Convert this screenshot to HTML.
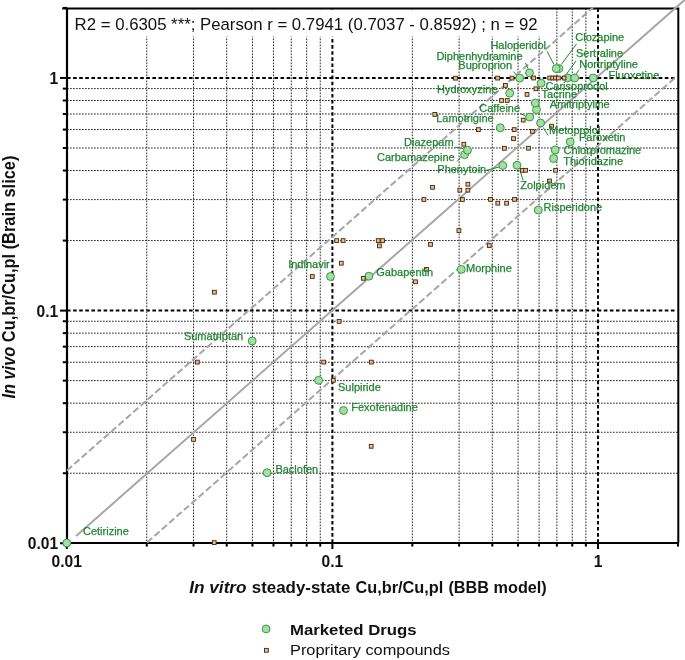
<!DOCTYPE html>
<html><head><meta charset="utf-8"><title>Plot</title>
<style>html,body{margin:0;padding:0;background:#fff;}body{width:685px;height:660px;overflow:hidden;}svg{display:block;}</style>
</head><body>
<svg width="685" height="660" viewBox="0 0 685 660">
<rect width="685" height="660" fill="#fff"/>
<line x1="146.75" y1="8.5" x2="146.75" y2="543" stroke="#2a2a2a" stroke-width="1" stroke-dasharray="1.7 1.3"/>
<line x1="193.52" y1="8.5" x2="193.52" y2="543" stroke="#2a2a2a" stroke-width="1" stroke-dasharray="1.7 1.3"/>
<line x1="226.71" y1="8.5" x2="226.71" y2="543" stroke="#2a2a2a" stroke-width="1" stroke-dasharray="1.7 1.3"/>
<line x1="252.45" y1="8.5" x2="252.45" y2="543" stroke="#2a2a2a" stroke-width="1" stroke-dasharray="1.7 1.3"/>
<line x1="273.48" y1="8.5" x2="273.48" y2="543" stroke="#2a2a2a" stroke-width="1" stroke-dasharray="1.7 1.3"/>
<line x1="291.26" y1="8.5" x2="291.26" y2="543" stroke="#2a2a2a" stroke-width="1" stroke-dasharray="1.7 1.3"/>
<line x1="306.66" y1="8.5" x2="306.66" y2="543" stroke="#2a2a2a" stroke-width="1" stroke-dasharray="1.7 1.3"/>
<line x1="320.25" y1="8.5" x2="320.25" y2="543" stroke="#2a2a2a" stroke-width="1" stroke-dasharray="1.7 1.3"/>
<line x1="412.35" y1="8.5" x2="412.35" y2="543" stroke="#2a2a2a" stroke-width="1" stroke-dasharray="1.7 1.3"/>
<line x1="459.12" y1="8.5" x2="459.12" y2="543" stroke="#2a2a2a" stroke-width="1" stroke-dasharray="1.7 1.3"/>
<line x1="492.31" y1="8.5" x2="492.31" y2="543" stroke="#2a2a2a" stroke-width="1" stroke-dasharray="1.7 1.3"/>
<line x1="518.05" y1="8.5" x2="518.05" y2="543" stroke="#2a2a2a" stroke-width="1" stroke-dasharray="1.7 1.3"/>
<line x1="539.08" y1="8.5" x2="539.08" y2="543" stroke="#2a2a2a" stroke-width="1" stroke-dasharray="1.7 1.3"/>
<line x1="556.86" y1="8.5" x2="556.86" y2="543" stroke="#2a2a2a" stroke-width="1" stroke-dasharray="1.7 1.3"/>
<line x1="572.26" y1="8.5" x2="572.26" y2="543" stroke="#2a2a2a" stroke-width="1" stroke-dasharray="1.7 1.3"/>
<line x1="585.85" y1="8.5" x2="585.85" y2="543" stroke="#2a2a2a" stroke-width="1" stroke-dasharray="1.7 1.3"/>
<line x1="67" y1="473.22" x2="678.3" y2="473.22" stroke="#2a2a2a" stroke-width="1" stroke-dasharray="1.7 1.3"/>
<line x1="67" y1="432.25" x2="678.3" y2="432.25" stroke="#2a2a2a" stroke-width="1" stroke-dasharray="1.7 1.3"/>
<line x1="67" y1="403.18" x2="678.3" y2="403.18" stroke="#2a2a2a" stroke-width="1" stroke-dasharray="1.7 1.3"/>
<line x1="67" y1="380.63" x2="678.3" y2="380.63" stroke="#2a2a2a" stroke-width="1" stroke-dasharray="1.7 1.3"/>
<line x1="67" y1="362.21" x2="678.3" y2="362.21" stroke="#2a2a2a" stroke-width="1" stroke-dasharray="1.7 1.3"/>
<line x1="67" y1="346.64" x2="678.3" y2="346.64" stroke="#2a2a2a" stroke-width="1" stroke-dasharray="1.7 1.3"/>
<line x1="67" y1="333.15" x2="678.3" y2="333.15" stroke="#2a2a2a" stroke-width="1" stroke-dasharray="1.7 1.3"/>
<line x1="67" y1="321.25" x2="678.3" y2="321.25" stroke="#2a2a2a" stroke-width="1" stroke-dasharray="1.7 1.3"/>
<line x1="67" y1="240.57" x2="678.3" y2="240.57" stroke="#2a2a2a" stroke-width="1" stroke-dasharray="1.7 1.3"/>
<line x1="67" y1="199.60" x2="678.3" y2="199.60" stroke="#2a2a2a" stroke-width="1" stroke-dasharray="1.7 1.3"/>
<line x1="67" y1="170.53" x2="678.3" y2="170.53" stroke="#2a2a2a" stroke-width="1" stroke-dasharray="1.7 1.3"/>
<line x1="67" y1="147.98" x2="678.3" y2="147.98" stroke="#2a2a2a" stroke-width="1" stroke-dasharray="1.7 1.3"/>
<line x1="67" y1="129.56" x2="678.3" y2="129.56" stroke="#2a2a2a" stroke-width="1" stroke-dasharray="1.7 1.3"/>
<line x1="67" y1="113.99" x2="678.3" y2="113.99" stroke="#2a2a2a" stroke-width="1" stroke-dasharray="1.7 1.3"/>
<line x1="67" y1="100.50" x2="678.3" y2="100.50" stroke="#2a2a2a" stroke-width="1" stroke-dasharray="1.7 1.3"/>
<line x1="67" y1="88.60" x2="678.3" y2="88.60" stroke="#2a2a2a" stroke-width="1" stroke-dasharray="1.7 1.3"/>
<line x1="332.40" y1="8.5" x2="332.40" y2="543" stroke="#000" stroke-width="2" stroke-dasharray="3.6 2.5"/>
<line x1="67" y1="310.60" x2="676.4" y2="310.60" stroke="#000" stroke-width="2" stroke-dasharray="3.6 2.5"/>
<line x1="598.00" y1="8.5" x2="598.00" y2="543" stroke="#000" stroke-width="2" stroke-dasharray="3.6 2.5"/>
<line x1="67" y1="77.95" x2="676.4" y2="77.95" stroke="#000" stroke-width="2" stroke-dasharray="3.6 2.5"/>
<rect x="68" y="9.5" width="478" height="27" fill="#fff"/>
<text x="74.6" y="29.8" font-family="'Liberation Sans', Arial, sans-serif" font-size="16.6" fill="#111" textLength="463" lengthAdjust="spacingAndGlyphs">R2 = 0.6305 ***; Pearson r = 0.7941 (0.7037 - 0.8592) ; n = 92</text>
<path d="M67 8.0 V543 H678.3" fill="none" stroke="#000" stroke-width="2.2"/>
<path d="M62.3 8.5 H678.3 V543" fill="none" stroke="#000" stroke-width="2"/>
<line x1="60" y1="77.95" x2="67" y2="77.95" stroke="#000" stroke-width="2"/>
<line x1="598.00" y1="543" x2="598.00" y2="549" stroke="#000" stroke-width="2"/>
<line x1="60" y1="310.60" x2="67" y2="310.60" stroke="#000" stroke-width="2"/>
<line x1="332.40" y1="543" x2="332.40" y2="549" stroke="#000" stroke-width="2"/>
<line x1="60" y1="543.25" x2="67" y2="543.25" stroke="#000" stroke-width="2"/>
<line x1="66.80" y1="543" x2="66.80" y2="549" stroke="#000" stroke-width="2"/>
<line x1="62.8" y1="473.22" x2="67" y2="473.22" stroke="#000" stroke-width="2"/>
<line x1="146.75" y1="543" x2="146.75" y2="546.6" stroke="#000" stroke-width="2"/>
<line x1="62.8" y1="432.25" x2="67" y2="432.25" stroke="#000" stroke-width="2"/>
<line x1="193.52" y1="543" x2="193.52" y2="546.6" stroke="#000" stroke-width="2"/>
<line x1="62.8" y1="403.18" x2="67" y2="403.18" stroke="#000" stroke-width="2"/>
<line x1="226.71" y1="543" x2="226.71" y2="546.6" stroke="#000" stroke-width="2"/>
<line x1="62.8" y1="380.63" x2="67" y2="380.63" stroke="#000" stroke-width="2"/>
<line x1="252.45" y1="543" x2="252.45" y2="546.6" stroke="#000" stroke-width="2"/>
<line x1="62.8" y1="362.21" x2="67" y2="362.21" stroke="#000" stroke-width="2"/>
<line x1="273.48" y1="543" x2="273.48" y2="546.6" stroke="#000" stroke-width="2"/>
<line x1="62.8" y1="346.64" x2="67" y2="346.64" stroke="#000" stroke-width="2"/>
<line x1="291.26" y1="543" x2="291.26" y2="546.6" stroke="#000" stroke-width="2"/>
<line x1="62.8" y1="333.15" x2="67" y2="333.15" stroke="#000" stroke-width="2"/>
<line x1="306.66" y1="543" x2="306.66" y2="546.6" stroke="#000" stroke-width="2"/>
<line x1="62.8" y1="321.25" x2="67" y2="321.25" stroke="#000" stroke-width="2"/>
<line x1="320.25" y1="543" x2="320.25" y2="546.6" stroke="#000" stroke-width="2"/>
<line x1="62.8" y1="240.57" x2="67" y2="240.57" stroke="#000" stroke-width="2"/>
<line x1="412.35" y1="543" x2="412.35" y2="546.6" stroke="#000" stroke-width="2"/>
<line x1="62.8" y1="199.60" x2="67" y2="199.60" stroke="#000" stroke-width="2"/>
<line x1="459.12" y1="543" x2="459.12" y2="546.6" stroke="#000" stroke-width="2"/>
<line x1="62.8" y1="170.53" x2="67" y2="170.53" stroke="#000" stroke-width="2"/>
<line x1="492.31" y1="543" x2="492.31" y2="546.6" stroke="#000" stroke-width="2"/>
<line x1="62.8" y1="147.98" x2="67" y2="147.98" stroke="#000" stroke-width="2"/>
<line x1="518.05" y1="543" x2="518.05" y2="546.6" stroke="#000" stroke-width="2"/>
<line x1="62.8" y1="129.56" x2="67" y2="129.56" stroke="#000" stroke-width="2"/>
<line x1="539.08" y1="543" x2="539.08" y2="546.6" stroke="#000" stroke-width="2"/>
<line x1="62.8" y1="113.99" x2="67" y2="113.99" stroke="#000" stroke-width="2"/>
<line x1="556.86" y1="543" x2="556.86" y2="546.6" stroke="#000" stroke-width="2"/>
<line x1="62.8" y1="100.50" x2="67" y2="100.50" stroke="#000" stroke-width="2"/>
<line x1="572.26" y1="543" x2="572.26" y2="546.6" stroke="#000" stroke-width="2"/>
<line x1="62.8" y1="88.60" x2="67" y2="88.60" stroke="#000" stroke-width="2"/>
<line x1="585.85" y1="543" x2="585.85" y2="546.6" stroke="#000" stroke-width="2"/>
<line x1="62.8" y1="7.92" x2="67" y2="7.92" stroke="#000" stroke-width="2"/>
<line x1="677.95" y1="543" x2="677.95" y2="546.6" stroke="#000" stroke-width="2"/>
<line x1="76.1" y1="536" x2="687" y2="-2.20" stroke="#a6a6a6" stroke-width="2"/>
<line x1="67" y1="470.5" x2="593" y2="7.5" stroke="#a6a6a6" stroke-width="2" stroke-dasharray="6.8 3"/>
<line x1="147.1" y1="542.5" x2="674.5" y2="78.2" stroke="#a6a6a6" stroke-width="2" stroke-dasharray="6.8 3"/>
<line x1="519.7" y1="169.9" x2="523.2" y2="180.4" stroke="#1f8530" stroke-width="1"/>
<line x1="485.8" y1="170.5" x2="499.0" y2="167.0" stroke="#1f8530" stroke-width="1"/>
<line x1="457.3" y1="161.4" x2="460.5" y2="157.0" stroke="#1f8530" stroke-width="1"/>
<line x1="455.4" y1="147.2" x2="463.2" y2="148.5" stroke="#1f8530" stroke-width="1"/>
<line x1="548.2" y1="135.4" x2="543.2" y2="127.5" stroke="#1f8530" stroke-width="1"/>
<line x1="520.4" y1="113.5" x2="525.6" y2="116.0" stroke="#1f8530" stroke-width="1"/>
<line x1="513.3" y1="71.5" x2="516.3" y2="74.9" stroke="#1f8530" stroke-width="1"/>
<line x1="525.4" y1="63.0" x2="528.0" y2="68.5" stroke="#1f8530" stroke-width="1"/>
<line x1="576.5" y1="44.0" x2="561.2" y2="64.6" stroke="#1f8530" stroke-width="1"/>
<line x1="547.0" y1="51.2" x2="554.0" y2="64.6" stroke="#1f8530" stroke-width="1"/>
<line x1="576.0" y1="61.0" x2="566.4" y2="74.2" stroke="#1f8530" stroke-width="1"/>
<line x1="579.3" y1="69.8" x2="575.8" y2="74.2" stroke="#1f8530" stroke-width="1"/>
<circle cx="66.8" cy="543" r="3.95" fill="#a9dca4" stroke="#2f9a45" stroke-width="1"/>
<circle cx="267.1" cy="472.7" r="3.95" fill="#a9dca4" stroke="#2f9a45" stroke-width="1"/>
<circle cx="343.5" cy="410.5" r="3.95" fill="#a9dca4" stroke="#2f9a45" stroke-width="1"/>
<circle cx="318.6" cy="380.3" r="3.95" fill="#a9dca4" stroke="#2f9a45" stroke-width="1"/>
<circle cx="252.2" cy="341" r="3.95" fill="#a9dca4" stroke="#2f9a45" stroke-width="1"/>
<circle cx="330.5" cy="276.5" r="3.95" fill="#a9dca4" stroke="#2f9a45" stroke-width="1"/>
<circle cx="368.9" cy="276.2" r="3.95" fill="#a9dca4" stroke="#2f9a45" stroke-width="1"/>
<circle cx="461.3" cy="269.4" r="3.95" fill="#a9dca4" stroke="#2f9a45" stroke-width="1"/>
<circle cx="538.3" cy="210" r="3.95" fill="#a9dca4" stroke="#2f9a45" stroke-width="1"/>
<circle cx="517.0" cy="165.3" r="3.95" fill="#a9dca4" stroke="#2f9a45" stroke-width="1"/>
<circle cx="502.8" cy="165.5" r="3.95" fill="#a9dca4" stroke="#2f9a45" stroke-width="1"/>
<circle cx="464.6" cy="154.6" r="3.95" fill="#a9dca4" stroke="#2f9a45" stroke-width="1"/>
<circle cx="467.5" cy="150.2" r="3.95" fill="#a9dca4" stroke="#2f9a45" stroke-width="1"/>
<circle cx="553.6" cy="158.5" r="3.95" fill="#a9dca4" stroke="#2f9a45" stroke-width="1"/>
<circle cx="555.2" cy="150" r="3.95" fill="#a9dca4" stroke="#2f9a45" stroke-width="1"/>
<circle cx="570.2" cy="141.8" r="3.95" fill="#a9dca4" stroke="#2f9a45" stroke-width="1"/>
<circle cx="540.6" cy="123" r="3.95" fill="#a9dca4" stroke="#2f9a45" stroke-width="1"/>
<circle cx="500.3" cy="127.8" r="3.95" fill="#a9dca4" stroke="#2f9a45" stroke-width="1"/>
<circle cx="529.7" cy="117.1" r="3.95" fill="#a9dca4" stroke="#2f9a45" stroke-width="1"/>
<circle cx="536.5" cy="109.7" r="3.95" fill="#a9dca4" stroke="#2f9a45" stroke-width="1"/>
<circle cx="535.3" cy="103" r="3.95" fill="#a9dca4" stroke="#2f9a45" stroke-width="1"/>
<circle cx="509.7" cy="93.2" r="3.95" fill="#a9dca4" stroke="#2f9a45" stroke-width="1"/>
<circle cx="541.1" cy="83.2" r="3.95" fill="#a9dca4" stroke="#2f9a45" stroke-width="1"/>
<circle cx="519.7" cy="78.1" r="3.95" fill="#a9dca4" stroke="#2f9a45" stroke-width="1"/>
<circle cx="529.5" cy="72.9" r="3.95" fill="#a9dca4" stroke="#2f9a45" stroke-width="1"/>
<circle cx="558.9" cy="68.6" r="3.95" fill="#a9dca4" stroke="#2f9a45" stroke-width="1"/>
<circle cx="556.2" cy="68.6" r="3.95" fill="#a9dca4" stroke="#2f9a45" stroke-width="1"/>
<circle cx="567.4" cy="78.0" r="3.95" fill="#a9dca4" stroke="#2f9a45" stroke-width="1"/>
<circle cx="574.7" cy="78.0" r="3.95" fill="#a9dca4" stroke="#2f9a45" stroke-width="1"/>
<circle cx="593.2" cy="78.0" r="3.95" fill="#a9dca4" stroke="#2f9a45" stroke-width="1"/>
<rect x="453.60" y="76.30" width="3.8" height="3.8" fill="#f8bb7b" stroke="#3a2818" stroke-width="0.9"/>
<rect x="495.70" y="76.20" width="3.8" height="3.8" fill="#f8bb7b" stroke="#3a2818" stroke-width="0.9"/>
<rect x="510.10" y="76.20" width="3.8" height="3.8" fill="#f8bb7b" stroke="#3a2818" stroke-width="0.9"/>
<rect x="531.70" y="76.10" width="3.8" height="3.8" fill="#f8bb7b" stroke="#3a2818" stroke-width="0.9"/>
<rect x="547.80" y="76.10" width="3.8" height="3.8" fill="#f8bb7b" stroke="#3a2818" stroke-width="0.9"/>
<rect x="550.70" y="76.10" width="3.8" height="3.8" fill="#f8bb7b" stroke="#3a2818" stroke-width="0.9"/>
<rect x="553.60" y="76.10" width="3.8" height="3.8" fill="#f8bb7b" stroke="#3a2818" stroke-width="0.9"/>
<rect x="556.50" y="76.10" width="3.8" height="3.8" fill="#f8bb7b" stroke="#3a2818" stroke-width="0.9"/>
<rect x="562.20" y="76.10" width="3.8" height="3.8" fill="#f8bb7b" stroke="#3a2818" stroke-width="0.9"/>
<rect x="503.50" y="83.50" width="3.8" height="3.8" fill="#f8bb7b" stroke="#3a2818" stroke-width="0.9"/>
<rect x="534.00" y="86.90" width="3.8" height="3.8" fill="#f8bb7b" stroke="#3a2818" stroke-width="0.9"/>
<rect x="525.10" y="92.50" width="3.8" height="3.8" fill="#f8bb7b" stroke="#3a2818" stroke-width="0.9"/>
<rect x="499.60" y="98.60" width="3.8" height="3.8" fill="#f8bb7b" stroke="#3a2818" stroke-width="0.9"/>
<rect x="505.30" y="98.60" width="3.8" height="3.8" fill="#f8bb7b" stroke="#3a2818" stroke-width="0.9"/>
<rect x="432.90" y="112.50" width="3.8" height="3.8" fill="#f8bb7b" stroke="#3a2818" stroke-width="0.9"/>
<rect x="521.30" y="118.20" width="3.8" height="3.8" fill="#f8bb7b" stroke="#3a2818" stroke-width="0.9"/>
<rect x="549.60" y="124.30" width="3.8" height="3.8" fill="#f8bb7b" stroke="#3a2818" stroke-width="0.9"/>
<rect x="476.50" y="127.70" width="3.8" height="3.8" fill="#f8bb7b" stroke="#3a2818" stroke-width="0.9"/>
<rect x="512.30" y="127.70" width="3.8" height="3.8" fill="#f8bb7b" stroke="#3a2818" stroke-width="0.9"/>
<rect x="530.50" y="129.50" width="3.8" height="3.8" fill="#f8bb7b" stroke="#3a2818" stroke-width="0.9"/>
<rect x="511.60" y="136.70" width="3.8" height="3.8" fill="#f8bb7b" stroke="#3a2818" stroke-width="0.9"/>
<rect x="461.90" y="142.30" width="3.8" height="3.8" fill="#f8bb7b" stroke="#3a2818" stroke-width="0.9"/>
<rect x="502.50" y="146.40" width="3.8" height="3.8" fill="#f8bb7b" stroke="#3a2818" stroke-width="0.9"/>
<rect x="526.60" y="146.30" width="3.8" height="3.8" fill="#f8bb7b" stroke="#3a2818" stroke-width="0.9"/>
<rect x="520.40" y="168.40" width="3.8" height="3.8" fill="#f8bb7b" stroke="#3a2818" stroke-width="0.9"/>
<rect x="523.70" y="168.40" width="3.8" height="3.8" fill="#f8bb7b" stroke="#3a2818" stroke-width="0.9"/>
<rect x="553.70" y="168.40" width="3.8" height="3.8" fill="#f8bb7b" stroke="#3a2818" stroke-width="0.9"/>
<rect x="547.60" y="179.10" width="3.8" height="3.8" fill="#f8bb7b" stroke="#3a2818" stroke-width="0.9"/>
<rect x="466.00" y="182.30" width="3.8" height="3.8" fill="#f8bb7b" stroke="#3a2818" stroke-width="0.9"/>
<rect x="430.60" y="185.40" width="3.8" height="3.8" fill="#f8bb7b" stroke="#3a2818" stroke-width="0.9"/>
<rect x="457.90" y="188.30" width="3.8" height="3.8" fill="#f8bb7b" stroke="#3a2818" stroke-width="0.9"/>
<rect x="466.00" y="188.30" width="3.8" height="3.8" fill="#f8bb7b" stroke="#3a2818" stroke-width="0.9"/>
<rect x="422.00" y="197.60" width="3.8" height="3.8" fill="#f8bb7b" stroke="#3a2818" stroke-width="0.9"/>
<rect x="460.50" y="197.60" width="3.8" height="3.8" fill="#f8bb7b" stroke="#3a2818" stroke-width="0.9"/>
<rect x="488.60" y="197.50" width="3.8" height="3.8" fill="#f8bb7b" stroke="#3a2818" stroke-width="0.9"/>
<rect x="495.90" y="201.30" width="3.8" height="3.8" fill="#f8bb7b" stroke="#3a2818" stroke-width="0.9"/>
<rect x="504.70" y="201.30" width="3.8" height="3.8" fill="#f8bb7b" stroke="#3a2818" stroke-width="0.9"/>
<rect x="512.60" y="197.50" width="3.8" height="3.8" fill="#f8bb7b" stroke="#3a2818" stroke-width="0.9"/>
<rect x="457.00" y="228.70" width="3.8" height="3.8" fill="#f8bb7b" stroke="#3a2818" stroke-width="0.9"/>
<rect x="428.60" y="242.50" width="3.8" height="3.8" fill="#f8bb7b" stroke="#3a2818" stroke-width="0.9"/>
<rect x="487.40" y="243.70" width="3.8" height="3.8" fill="#f8bb7b" stroke="#3a2818" stroke-width="0.9"/>
<rect x="334.80" y="238.70" width="3.8" height="3.8" fill="#f8bb7b" stroke="#3a2818" stroke-width="0.9"/>
<rect x="341.20" y="238.70" width="3.8" height="3.8" fill="#f8bb7b" stroke="#3a2818" stroke-width="0.9"/>
<rect x="376.30" y="238.70" width="3.8" height="3.8" fill="#f8bb7b" stroke="#3a2818" stroke-width="0.9"/>
<rect x="380.70" y="238.70" width="3.8" height="3.8" fill="#f8bb7b" stroke="#3a2818" stroke-width="0.9"/>
<rect x="377.50" y="244.00" width="3.8" height="3.8" fill="#f8bb7b" stroke="#3a2818" stroke-width="0.9"/>
<rect x="339.40" y="261.30" width="3.8" height="3.8" fill="#f8bb7b" stroke="#3a2818" stroke-width="0.9"/>
<rect x="424.60" y="267.40" width="3.8" height="3.8" fill="#f8bb7b" stroke="#3a2818" stroke-width="0.9"/>
<rect x="361.40" y="276.40" width="3.8" height="3.8" fill="#f8bb7b" stroke="#3a2818" stroke-width="0.9"/>
<rect x="413.60" y="279.90" width="3.8" height="3.8" fill="#f8bb7b" stroke="#3a2818" stroke-width="0.9"/>
<rect x="310.40" y="274.60" width="3.8" height="3.8" fill="#f8bb7b" stroke="#3a2818" stroke-width="0.9"/>
<rect x="212.50" y="290.30" width="3.8" height="3.8" fill="#f8bb7b" stroke="#3a2818" stroke-width="0.9"/>
<rect x="337.20" y="319.50" width="3.8" height="3.8" fill="#f8bb7b" stroke="#3a2818" stroke-width="0.9"/>
<rect x="321.80" y="360.20" width="3.8" height="3.8" fill="#f8bb7b" stroke="#3a2818" stroke-width="0.9"/>
<rect x="369.40" y="360.20" width="3.8" height="3.8" fill="#f8bb7b" stroke="#3a2818" stroke-width="0.9"/>
<rect x="331.40" y="378.40" width="3.8" height="3.8" fill="#f8bb7b" stroke="#3a2818" stroke-width="0.9"/>
<rect x="195.40" y="360.20" width="3.8" height="3.8" fill="#f8bb7b" stroke="#3a2818" stroke-width="0.9"/>
<rect x="191.60" y="437.50" width="3.8" height="3.8" fill="#f8bb7b" stroke="#3a2818" stroke-width="0.9"/>
<rect x="369.30" y="444.40" width="3.8" height="3.8" fill="#f8bb7b" stroke="#3a2818" stroke-width="0.9"/>
<rect x="212.30" y="540.70" width="3.8" height="3.8" fill="#f8bb7b" stroke="#3a2818" stroke-width="0.9"/>
<g font-family="'Liberation Sans', Arial, sans-serif" font-size="11" fill="#1f8530" stroke="#1f8530" stroke-width="0.25">
<text x="83.0" y="534.5">Cetirizine</text>
<text x="275.4" y="472.5">Baclofen</text>
<text x="351.2" y="410.5">Fexofenadine</text>
<text x="338.0" y="391.1">Sulpiride</text>
<text x="183.9" y="339.5">Sumatriptan</text>
<text x="288.2" y="268">Indinavir</text>
<text x="376.3" y="275.7">Gabapentin</text>
<text x="466.0" y="271.5">Morphine</text>
<text x="543.5" y="211">Risperidone</text>
<text x="520.3" y="188.5">Zolpidem</text>
<text x="437.3" y="173.2">Phenytoin</text>
<text x="377.0" y="161">Carbamazepine</text>
<text x="404.1" y="145.8">Diazepam</text>
<text x="563.2" y="165.4">Thioridazine</text>
<text x="563.6" y="154.1">Chlorpromazine</text>
<text x="579.0" y="141.2">Paroxetin</text>
<text x="549.0" y="133.9">Metoprolol</text>
<text x="436.2" y="122">Lamotrigine</text>
<text x="479.3" y="112.2">Caffeine</text>
<text x="549.8" y="108.4">Amitriptyline</text>
<text x="541.6" y="98.3">Tacrine</text>
<text x="437.0" y="92.5">Hydroxyzine</text>
<text x="545.4" y="89.6">Carisoprodol</text>
<text x="458.3" y="69.4">Buproprion</text>
<text x="436.4" y="60.4">Diphenhydramine</text>
<text x="575.3" y="41.0">Clozapine</text>
<text x="490.4" y="49.2">Haloperidol</text>
<text x="576.0" y="57.4">Sertraline</text>
<text x="579.3" y="68.2">Nortriptyline</text>
<text x="608.5" y="78.5">Fluoxetine</text>
</g>
<g font-family="'Liberation Sans', Arial, sans-serif" font-size="15.6" font-weight="bold" fill="#111">
<text x="58.2" y="84.15" text-anchor="end">1</text>
<text x="598.00" y="566.6" text-anchor="middle">1</text>
<text x="58.2" y="316.80" text-anchor="end">0.1</text>
<text x="332.40" y="566.6" text-anchor="middle">0.1</text>
<text x="58.2" y="549.45" text-anchor="end">0.01</text>
<text x="66.80" y="566.6" text-anchor="middle">0.01</text>
</g>
<text x="189.20" y="593.3" font-family="'Liberation Sans', Arial, sans-serif" font-size="16.3" font-weight="bold" font-style="italic" fill="#111" textLength="57.40" lengthAdjust="spacingAndGlyphs">In vitro</text>
<text x="251.80" y="593.3" font-family="'Liberation Sans', Arial, sans-serif" font-size="16.3" font-weight="bold" fill="#111" textLength="98.50" lengthAdjust="spacingAndGlyphs">steady-state</text>
<text x="355.50" y="593.3" font-family="'Liberation Sans', Arial, sans-serif" font-size="16.3" font-weight="bold" fill="#111" textLength="87.80" lengthAdjust="spacingAndGlyphs">Cu,br/Cu,pl</text>
<text x="448.40" y="593.3" font-family="'Liberation Sans', Arial, sans-serif" font-size="16.3" font-weight="bold" fill="#111" textLength="98.40" lengthAdjust="spacingAndGlyphs">(BBB model)</text>
<text transform="translate(14.8,398.6) rotate(-90)" x="0" y="0" font-family="'Liberation Sans', Arial, sans-serif" font-size="17.6" font-weight="bold" fill="#111" textLength="243" lengthAdjust="spacingAndGlyphs"><tspan font-style="italic">In vivo</tspan> Cu,br/Cu,pl (Brain slice)</text>
<circle cx="266.1" cy="628.9" r="3.9" fill="#a9dca4" stroke="#2f9a45" stroke-width="1"/>
<rect x="264.5" y="648.4" width="3.8" height="3.8" fill="#f8bb7b" stroke="#3a2818" stroke-width="0.9"/>
<text x="290" y="634.9" font-family="'Liberation Sans', Arial, sans-serif" font-size="15.5" font-weight="bold" fill="#111" textLength="126.6" lengthAdjust="spacingAndGlyphs">Marketed Drugs</text>
<text x="290" y="655.1" font-family="'Liberation Sans', Arial, sans-serif" font-size="15.2" fill="#111" textLength="160" lengthAdjust="spacingAndGlyphs">Propritary compounds</text>
</svg>
</body></html>
